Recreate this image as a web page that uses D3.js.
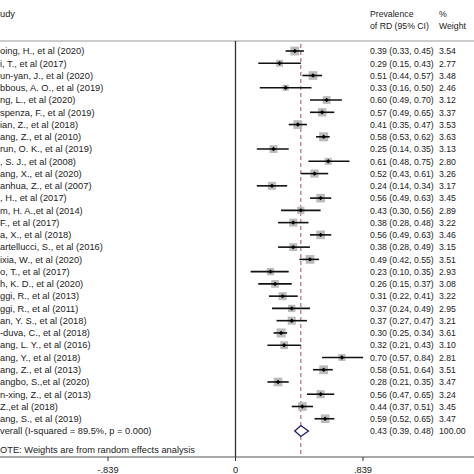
<!DOCTYPE html>
<html><head><meta charset="utf-8">
<script src="https://cdn.jsdelivr.net/npm/d3@7"></script>
<style>body{margin:0;background:#fff}text{font-family:"Liberation Sans",Arial,sans-serif;font-size:9.3px;fill:#222}text.r{font-size:8.7px}</style>
</head><body><svg width="474" height="474"></svg>
<script>
// study labels (left edge of the original figure is cropped)
var studies = ["oing, H., et al  (2020)","i, T., et al  (2017)","un-yan, J., et al  (2020)","bbous, A. O., et al (2019)","ng, L., et al  (2020)","spenza, F., et al  (2019)","ian, Z., et al  (2018)","ang, Z., et al  (2010)","run, O. K., et al  (2019)",", S. J., et al  (2008)","ang, X., et al  (2020)","anhua, Z., et al  (2007)",", H., et al (2017)","m, H. A.,et al  (2014)"," F., et al  (2017)","a, X., et al  (2018)","artellucci, S., et al  (2016)","ixia, W., et al  (2020)","o, T., et al  (2017)","h, K. D., et al  (2020)","ggi, R., et al  (2013)","ggi, R., et al  (2011)","an, Y. S., et al (2018)","-duva, C., et al  (2018)","ang, L. Y., et al  (2016)","ang, Y., et al  (2018)","ang, Z., et al  (2013)","angbo, S.,et al  (2020)","n-xing, Z., et al  (2013)"," Z.,et al  (2018)","ang, S., et al  (2019)"];
var est  = [0.39,0.29,0.51,0.33,0.60,0.57,0.41,0.58,0.25,0.61,0.52,0.24,0.56,0.43,0.38,0.56,0.38,0.49,0.23,0.26,0.31,0.37,0.37,0.30,0.32,0.70,0.58,0.28,0.56,0.44,0.59];
var lo   = [0.33,0.15,0.44,0.16,0.49,0.49,0.35,0.53,0.14,0.48,0.43,0.14,0.49,0.30,0.28,0.49,0.28,0.42,0.10,0.15,0.22,0.24,0.27,0.25,0.21,0.57,0.51,0.21,0.47,0.37,0.52];
var hi   = [0.45,0.43,0.57,0.50,0.70,0.65,0.47,0.62,0.35,0.75,0.61,0.34,0.63,0.56,0.48,0.63,0.49,0.55,0.35,0.37,0.41,0.49,0.47,0.34,0.43,0.84,0.64,0.35,0.65,0.51,0.65];
var weights = ["3.54","2.77","3.48","2.46","3.12","3.37","3.53","3.63","3.13","2.80","3.26","3.17","3.45","2.89","3.22","3.46","3.15","3.51","2.93","3.08","3.22","2.95","3.21","3.61","3.10","2.81","3.51","3.47","3.24","3.45","3.47"];
var overall = {est:0.43, lo:0.39, hi:0.48, w:"100.00"};
var ticks = [-0.839, 0, 0.839];
var tickLabels = ["-.839","0",".839"];

var svg = d3.select("svg");
var x = d3.scaleLinear().domain([-0.839,0.839]).range([108,363]);
var y = d3.scaleLinear().domain([0,31]).range([51,431]);
var fmt = d3.format(".2f");

svg.append("text").attr("x",0).attr("y",17).text("udy");
svg.append("text").attr("class","r").attr("x",370).attr("y",17).text("Prevalence");
svg.append("text").attr("class","r").attr("x",370).attr("y",29).text("of RD (95% CI)");
svg.append("text").attr("class","r").attr("x",439).attr("y",17).text("%");
svg.append("text").attr("class","r").attr("x",439).attr("y",29).text("Weight");
svg.append("line").attr("x1",0).attr("x2",474).attr("y1",41).attr("y2",41).attr("stroke","#bbb").attr("stroke-width",1.5);

// axis
svg.append("line").attr("x1",0).attr("x2",474).attr("y1",457).attr("y2",457).attr("stroke","#555");
svg.selectAll(".tk").data(ticks).enter().append("line").attr("x1",x).attr("x2",x).attr("y1",457).attr("y2",461).attr("stroke","#333");
svg.selectAll(".tl").data(ticks).enter().append("text").attr("x",x).attr("y",473).attr("text-anchor","middle").text(function(d,i){return tickLabels[i];});
svg.append("line").attr("x1",x(0)).attr("x2",x(0)).attr("y1",41).attr("y2",457).attr("stroke","#333").attr("stroke-width",1.3);
svg.append("line").attr("x1",x(overall.est)).attr("x2",x(overall.est)).attr("y1",44).attr("y2",455).attr("stroke","#a05060").attr("stroke-dasharray","4,3");

var idx = d3.range(studies.length);
var g = svg.selectAll(".row").data(idx).enter().append("g");
g.append("rect").attr("x",function(i){var s=+weights[i]*2.5;return x(est[i])-s/2;}).attr("y",function(i){var s=+weights[i]*2.5;return y(i)-s/2;})
  .attr("width",function(i){return +weights[i]*2.5;}).attr("height",function(i){return +weights[i]*2.5;}).attr("fill","#bbb");
g.append("line").attr("x1",function(i){return x(lo[i]);}).attr("x2",function(i){return x(hi[i]);}).attr("y1",y).attr("y2",y).attr("stroke","#111").attr("stroke-width",1.6);
g.append("path").attr("d",function(i){var cx=x(est[i]),cy=y(i);return "M"+(cx-2.2)+","+cy+"L"+cx+","+(cy-2.2)+"L"+(cx+2.2)+","+cy+"L"+cx+","+(cy+2.2)+"Z";}).attr("fill","#000");
g.append("text").attr("x",0).attr("y",function(i){return y(i)+3.3;}).text(function(i){return studies[i];});
g.append("text").attr("class","r").attr("x",370).attr("y",function(i){return y(i)+3.3;}).text(function(i){return fmt(est[i])+" ("+fmt(lo[i])+", "+fmt(hi[i])+")";});
g.append("text").attr("class","r").attr("x",439).attr("y",function(i){return y(i)+3.3;}).text(function(i){return weights[i];});

var oy = y(31);
svg.append("path").attr("d","M"+x(overall.lo)+","+oy+"L"+x(overall.est)+","+(oy-5.5)+"L"+x(overall.hi)+","+oy+"L"+x(overall.est)+","+(oy+5.5)+"Z")
  .attr("fill","#fff").attr("stroke","#1a1a6a").attr("stroke-width",1.3);
svg.append("text").attr("x",0).attr("y",oy+3.3).text("verall  (I-squared = 89.5%, p = 0.000)");
svg.append("text").attr("class","r").attr("x",370).attr("y",oy+3.3).text(fmt(overall.est)+" ("+fmt(overall.lo)+", "+fmt(overall.hi)+")");
svg.append("text").attr("class","r").attr("x",439).attr("y",oy+3.3).text(overall.w);
svg.append("text").attr("x",0).attr("y",453).text("OTE: Weights are from random effects analysis");
</script></body></html>
